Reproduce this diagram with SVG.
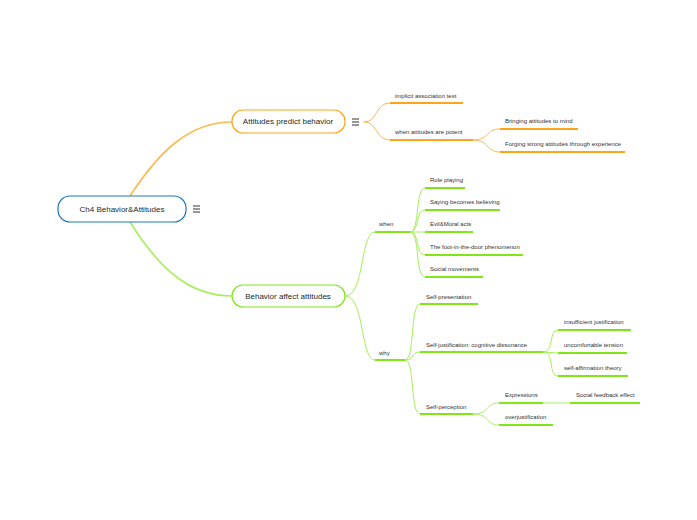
<svg xmlns="http://www.w3.org/2000/svg" width="697" height="520" viewBox="0 0 697 520">
<style>
text{font-family:"Liberation Sans",sans-serif;fill:#333}
.s{font-size:6px}
.m{font-size:8px;fill:#1a2a2a}
.o{stroke:#ffa31a;stroke-width:2;fill:none}
.oc{stroke:#ffb84d;stroke-width:1;fill:none}
.g{stroke:#80e619;stroke-width:2;fill:none}
.gc{stroke:#a6ef5c;stroke-width:1;fill:none}
.ic{stroke:#333;stroke-width:1}
</style>
<rect width="697" height="520" fill="#fff"/>
<g id="connectors">
<path class="oc" style="stroke-width:1.6" d="M130,196 C160,150 190,122 232,122"/>
<path class="gc" style="stroke-width:1.6" d="M130,222 C160,270 190,296 232,296"/>
<path class="oc" d="M364,122 C378,122 375,103 390,103"/>
<path class="oc" d="M364,122 C378,122 375,140 390,140"/>
<path class="oc" d="M473,140 C490,140 485,129 500,129"/>
<path class="oc" d="M473,140 C490,140 485,152 500,152"/>
<path class="gc" d="M345,296 C365,296 360,232 375,232"/>
<path class="gc" d="M345,296 C365,296 360,360 375,360"/>
<path class="gc" d="M410,232 C420,232 415,188 425,188"/>
<path class="gc" d="M410,232 C420,232 415,210 425,210"/>
<path class="gc" d="M410,232 L425,232"/>
<path class="gc" d="M410,232 C420,232 415,255 425,255"/>
<path class="gc" d="M410,232 C420,232 415,277 425,277"/>
<path class="gc" d="M405,360 C415,360 410,304 420,304"/>
<path class="gc" d="M405,360 C415,360 410,352 420,352"/>
<path class="gc" d="M405,360 C415,360 410,414 420,414"/>
<path class="gc" d="M543,352 C555,352 548,330 558,330"/>
<path class="gc" d="M543,352 L558,353"/>
<path class="gc" d="M543,352 C555,352 548,376 558,376"/>
<path class="gc" d="M473,414 C490,414 485,403 499,403"/>
<path class="gc" d="M473,414 C490,414 485,425 499,425"/>
<path class="gc" d="M543,403 L570,403"/>
</g>
<g id="root">
<rect x="58" y="196" width="128" height="26" rx="12" fill="#fff" stroke="#1a78c2" stroke-width="1.2"/>
<text class="m" x="122" y="212" text-anchor="middle">Ch4 Behavior&amp;Attitudes</text>
<path class="ic" d="M193,206h7M193,209h7M193,212h7"/>
</g>
<g id="n1">
<rect x="232" y="110" width="113" height="23" rx="11" fill="#fff" stroke="#ffa31a" stroke-width="1.2"/>
<text class="m" x="288" y="124" text-anchor="middle">Attitudes predict behavior</text>
<path class="ic" d="M352,119h7M352,122h7M352,125h7"/>
</g>
<g id="n2">
<rect x="232" y="285" width="113" height="22" rx="11" fill="#fff" stroke="#80e619" stroke-width="1.2"/>
<text class="m" x="288" y="299" text-anchor="middle">Behavior affect attitudes</text>
</g>
<g id="o1"><path class="o" d="M390,103H463"/><text class="s" x="395" y="98">implicit association test</text></g>
<g id="o2"><path class="o" d="M390,140H473"/><text class="s" x="395" y="134">when attitudes are potent</text></g>
<g id="o3"><path class="o" d="M500,129H578"/><text class="s" x="505" y="123">Bringing attitudes to mind</text></g>
<g id="o4"><path class="o" d="M500,152H625"/><text class="s" x="505" y="146">Forging strong attitudes through experience</text></g>
<g id="g1"><path class="g" d="M375,232H410"/><text class="s" x="379" y="226">when</text></g>
<g id="g2"><path class="g" d="M425,188H465"/><text class="s" x="430" y="182">Role playing</text></g>
<g id="g3"><path class="g" d="M425,210H500"/><text class="s" x="430" y="204">Saying becomes believing</text></g>
<g id="g4"><path class="g" d="M425,232H473"/><text class="s" x="430" y="226">Evil&amp;Moral acts</text></g>
<g id="g5"><path class="g" d="M425,255H523"/><text class="s" x="430" y="249">The foot-in-the-door phenomenon</text></g>
<g id="g6"><path class="g" d="M425,277H483"/><text class="s" x="430" y="271">Social movements</text></g>
<g id="g7"><path class="g" d="M375,360H405"/><text class="s" x="379" y="355">why</text></g>
<g id="g8"><path class="g" d="M420,304H478"/><text class="s" x="426" y="299">Self-presentation</text></g>
<g id="g9"><path class="g" d="M420,352H543"/><text class="s" x="426" y="347">Self-justification: cognitive dissonance</text></g>
<g id="g10"><path class="g" d="M420,414H473"/><text class="s" x="426" y="409">Self-perception</text></g>
<g id="g11"><path class="g" d="M558,330H631"/><text class="s" x="564" y="324">insufficient justification</text></g>
<g id="g12"><path class="g" d="M558,353H627"/><text class="s" x="564" y="347">uncomfortable tension</text></g>
<g id="g13"><path class="g" d="M558,376H628"/><text class="s" x="564" y="370">self-affirmation theory</text></g>
<g id="g14"><path class="g" d="M499,403H543"/><text class="s" x="505" y="397">Expressions</text></g>
<g id="g15"><path class="g" d="M499,425H553"/><text class="s" x="505" y="419">overjustification</text></g>
<g id="g16"><path class="g" d="M570,403H640"/><text class="s" x="576" y="397">Social feedback effect</text></g>
</svg>
